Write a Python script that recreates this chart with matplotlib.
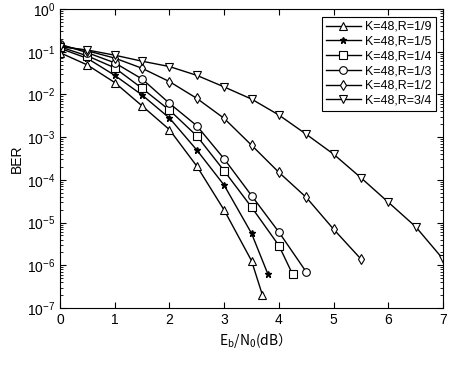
import numpy as np
import matplotlib.pyplot as plt
from matplotlib.ticker import LogLocator, NullFormatter

plt.rcParams['font.family'] = ['Liberation Sans', 'Noto Sans CJK SC', 'DejaVu Sans']
plt.rcParams['mathtext.fontset'] = 'custom'
plt.rcParams['mathtext.rm'] = 'Liberation Sans'

# data
x_r19 = [0, 0.5, 1, 1.5, 2, 2.5, 3, 3.5, 3.7]
ber_r19 = [0.095, 0.049, 0.019, 0.0054, 0.0015, 2.1e-4, 1.96e-5, 1.28e-6, 2.0e-7]

x_r15 = [0, 0.5, 1, 1.5, 2, 2.5, 3, 3.5, 3.8]
ber_r15 = [0.12, 0.07, 0.028, 0.0097, 0.0028, 5.0e-4, 7.5e-5, 5.6e-6, 6.2e-7]

x_r14 = [0, 0.5, 1, 1.5, 2, 2.5, 3, 3.5, 4, 4.25]
ber_r14 = [0.13, 0.08, 0.042, 0.0139, 0.0043, 1.07e-3, 1.63e-4, 2.3e-5, 2.9e-6, 6.2e-7]

x_r13 = [0, 0.5, 1, 1.5, 2, 2.5, 3, 3.5, 4, 4.5]
ber_r13 = [0.15, 0.095, 0.055, 0.023, 0.0062, 1.85e-3, 3.1e-4, 4.3e-5, 6.0e-6, 7.0e-7]

x_r12 = [0, 0.5, 1, 1.5, 2, 2.5, 3, 3.5, 4, 4.5, 5, 5.5]
ber_r12 = [0.14, 0.105, 0.071, 0.041, 0.02, 8.1e-3, 2.75e-3, 6.5e-4, 1.5e-4, 3.9e-5, 7.0e-6, 1.4e-6]

x_r34 = [0, 0.5, 1, 1.5, 2, 2.5, 3, 3.5, 4, 4.5, 5, 5.5, 6, 6.5, 7]
ber_r34 = [0.13, 0.11, 0.083, 0.06, 0.045, 0.028, 0.015, 7.8e-3, 3.3e-3, 1.17e-3,
           4.0e-4, 1.12e-4, 3.0e-5, 8.0e-6, 1.4e-6]

series = [
    (x_r19, ber_r19, '^', 'K=48,R=1/9'),
    (x_r15, ber_r15, '*', 'K=48,R=1/5'),
    (x_r14, ber_r14, 's', 'K=48,R=1/4'),
    (x_r13, ber_r13, 'o', 'K=48,R=1/3'),
    (x_r12, ber_r12, 'd', 'K=48,R=1/2'),
    (x_r34, ber_r34, 'v', 'K=48,R=3/4'),
]

fig = plt.figure(figsize=(4.74, 3.70), dpi=100)
ax = fig.add_axes([0.1266, 0.1676, 0.808, 0.808])

for xs, ys, mk, lab in series:
    if mk == '*':
        ax.semilogy(xs, ys, color='k', lw=1.0, marker=mk, ms=5,
                    mfc='k', mec='k', label=lab)
    else:
        ax.semilogy(xs, ys, color='k', lw=1.0, marker=mk, ms=5.5,
                    mfc='white', mec='k', mew=0.8, label=lab)

ax.set_xlim(0, 7)
ax.set_ylim(1e-7, 1e0)
ax.set_xticks(range(8))
ax.yaxis.set_major_locator(LogLocator(base=10, numticks=10))
ax.yaxis.set_minor_locator(LogLocator(base=10, subs=np.arange(2, 10), numticks=10))
ax.yaxis.set_minor_formatter(NullFormatter())
ax.tick_params(which='both', direction='in', top=True, right=True, labelsize=10)
ax.tick_params(which='major', length=4)
ax.tick_params(which='minor', length=2)
for s in ax.spines.values():
    s.set_linewidth(0.8)

ax.set_xlabel('E$_\\mathregular{b}$/N$_\\mathregular{0}$(dB）', fontsize=10, labelpad=3,
              fontfamily='Noto Sans CJK SC')
ax.set_ylabel('BER', fontsize=10, labelpad=2)

leg = ax.legend(loc='upper right', fontsize=9, fancybox=False, edgecolor='k',
                framealpha=1, handlelength=2.8, borderaxespad=0.6,
                labelspacing=0.22, borderpad=0.35, handletextpad=0.3)
leg.get_frame().set_linewidth(0.8)

fig.savefig('out.png', dpi=100)
